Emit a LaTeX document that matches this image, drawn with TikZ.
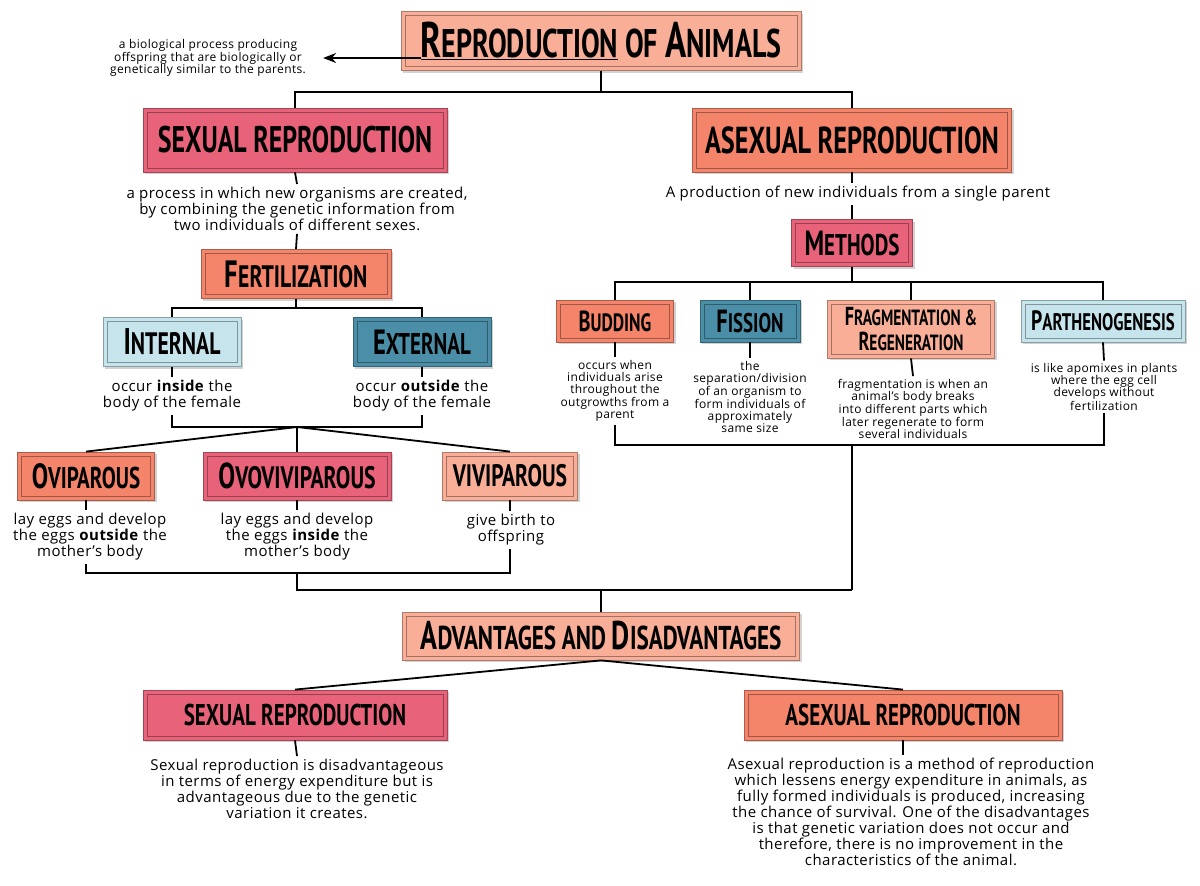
\documentclass[tikz,border=0pt]{standalone}
\usepackage{fontspec}
\setmainfont{Open Sans}[LetterSpace=3]
\newfontfamily\tf[FakeStretch=0.7]{PT Sans}
\usetikzlibrary{shadows,arrows.meta}
\definecolor{cPink}{HTML}{E8637A}
\definecolor{cCoral}{HTML}{F4846A}
\definecolor{cSalmon}{HTML}{F9AE97}
\definecolor{cBlue}{HTML}{C6E4EC}
\definecolor{cTeal}{HTML}{4A8EA8}
\newcommand\BigL[2]{{\fontsize{#2}{#2}\selectfont #1}}
\tikzset{
 box/.style={draw=#1!70!black, fill=#1, line width=0.8pt, inner sep=0pt, align=center,
   drop shadow={opacity=0.35, shadow xshift=2pt, shadow yshift=-2pt},
   path picture={\draw[#1!65!black, line width=0.6pt] ([shift={(4pt,4pt)}]path picture bounding box.south west) rectangle ([shift={(-4pt,-4pt)}]path picture bounding box.north east);}},
 hd/.style={font=\tf\bfseries\fontsize{#1}{#1}\selectfont},
 txt/.style={align=center, font=\fontsize{15}{16}\selectfont, inner sep=3pt},
 sm/.style={align=center, font=\fontsize{12}{12}\selectfont, inner sep=3pt},
 ln/.style={line width=1.8pt, black},
}
\begin{document}
\begin{tikzpicture}[x=1pt,y=-1pt]
\fill[white] (0,0) rectangle (1200,886);
\useasboundingbox (0,0) rectangle (1200,886);
% boxes
\node[box=cSalmon, hd=40, minimum width=400pt, minimum height=59pt] (title) at (601,41) {\underline{\BigL{R}{50}EPRODUCTION} OF \BigL{A}{50}NIMALS};
\node[box=cPink, hd=37, minimum width=304pt, minimum height=64pt] (sexT) at (295,140) {SEXUAL REPRODUCTION};
\node[box=cCoral, hd=37.5, minimum width=319pt, minimum height=64pt] (asexT) at (852,140) {ASEXUAL REPRODUCTION};
\node[box=cCoral, hd=31, minimum width=190pt, minimum height=49pt] (fert) at (296,274) {\BigL{F}{38}ERTILIZATION};
\node[box=cBlue, hd=31, minimum width=138pt, minimum height=49pt] (intl) at (172,342) {\BigL{I}{37}NTERNAL};
\node[box=cTeal, hd=30, minimum width=138pt, minimum height=49pt] (extl) at (422,342) {\BigL{E}{35}XTERNAL};
\node[box=cCoral, hd=30, minimum width=137pt, minimum height=48pt] (ovip) at (86,476) {\BigL{O}{35}VIPAROUS};
\node[box=cPink, hd=31, minimum width=188pt, minimum height=48pt] (ovov) at (297,476) {\BigL{O}{36}VOVIVIPAROUS};
\node[box=cSalmon, hd=31, minimum width=135pt, minimum height=48pt] (vivi) at (510,476) {VIVIPAROUS};
\node[box=cPink, hd=30, minimum width=121pt, minimum height=47pt] (meth) at (852,243) {\BigL{M}{35}ETHODS};
\node[box=cCoral, hd=25, minimum width=117pt, minimum height=42pt] (bud) at (615,321) {\BigL{B}{29}UDDING};
\node[box=cTeal, hd=27, minimum width=100pt, minimum height=42pt] (fis) at (750,321) {\BigL{F}{32}ISSION};
\node[box=cSalmon, hd=22, minimum width=167pt, minimum height=58pt] (frag) at (911,329) {\BigL{F}{26}RAGMENTATION \&\\[3pt]\BigL{R}{26}EGENERATION};
\node[box=cBlue, hd=24, minimum width=164pt, minimum height=42pt] (par) at (1103,321) {\BigL{P}{28}ARTHENOGENESIS};
\node[box=cSalmon, hd=33, minimum width=397pt, minimum height=48pt] (adv) at (601,636) {\BigL{A}{40}DVANTAGES AND \BigL{D}{40}ISADVANTAGES};
\node[box=cPink, hd=30, minimum width=304pt, minimum height=50pt] (sexB) at (295,715) {SEXUAL REPRODUCTION};
\node[box=cCoral, hd=30, minimum width=318pt, minimum height=50pt] (asexB) at (903,715) {ASEXUAL REPRODUCTION};
% texts
\node[sm] (def) at (208,58) {a biological process producing\\offspring that are biologically or\\genetically similar to the parents.};
\node[txt] (sexD) at (297,209) {a process in which new organisms are created,\\by combining the genetic information from\\two individuals of different sexes.};
\node[txt] (asD) at (858,194) {A production of new individuals from a single parent};
\node[txt] (intD) at (172,396) {occur \textbf{inside} the\\body of the female};
\node[txt] (extD) at (422,396) {occur \textbf{outside} the\\body of the female};
\node[txt] (ovipD) at (90,537) {lay eggs and develop\\the eggs \textbf{outside} the\\mother's body};
\node[txt] (ovovD) at (297,537) {lay eggs and develop\\the eggs \textbf{inside} the\\mother's body};
\node[txt] (viviD) at (511,530) {give birth to\\offspring};
\node[sm] (budD) at (615,391) {occurs when\\individuals arise\\throughout the\\outgrowths from a\\parent};
\node[sm] (fisD) at (750,397) {the\\separation/division\\of an organism to\\form individuals of\\approximately\\same size};
\node[sm] (fragD) at (913,409) {fragmentation is when an\\animal's body breaks\\into different parts which\\later regenerate to form\\several individuals};
\node[sm] (parD) at (1104,387) {is like apomixes in plants\\where the egg cell\\develops without\\fertilization};
\node[txt] (sexBD) at (297,789) {Sexual reproduction is disadvantageous\\in terms of energy expenditure but is\\advantageous due to the genetic\\variation it creates.};
\node[txt] (asexBD) at (911,812) {Asexual reproduction is a method of reproduction\\which lessens energy expenditure in animals, as\\fully formed individuals is produced, increasing\\the chance of survival. One of the disadvantages\\is that genetic variation does not occur and\\therefore, there is no improvement in the\\characteristics of the animal.};
% junctions
\coordinate (j1) at (601,92);
\coordinate (j2) at (296,308);
\coordinate (j3) at (297,427);
\coordinate (j4) at (297,573);
\coordinate (j6) at (852,590);
\coordinate (j7) at (852,445);
\coordinate (j8) at (852,282);
% connectors
\draw[ln,-{Stealth[length=13pt,width=10pt]}] ([xshift=20pt]title.west |- def.east) -- ([xshift=14pt]def.east);
\draw[ln] (title.south) -- (j1);
\draw[ln] (sexT.north) |- (j1) -| (asexT.north);
\draw[ln] (sexT.south) -- (sexD.north);
\draw[ln] (sexD.south) -- (fert.north);
\draw[ln] (fert.south) -- (j2);
\draw[ln] (intl.north) |- (j2) -| (extl.north);
\draw[ln] (intl.south) -- (intD.north);
\draw[ln] (extl.south) -- (extD.north);
\draw[ln] (intD.south) |- (j3) -| (extD.south);
\draw[ln] (j3) -- (ovip.north);
\draw[ln] (j3) -- (ovov.north);
\draw[ln] (j3) -- (vivi.north);
\draw[ln] (ovip.south) -- (ovip.south |- ovipD.north);
\draw[ln] (ovov.south) -- (ovovD.north);
\draw[ln] (vivi.south) -- (vivi.south |- viviD.north);
\draw[ln] (ovip.south |- ovipD.south) |- (j4) -| (vivi.south |- viviD.south);
\draw[ln] (j4) |- (j6);
\draw[ln] (adv.north) -- (adv.north |- j6);
\draw[ln] (j7) -- (j6);
\draw[ln] (adv.south) -- (sexB.north);
\draw[ln] (adv.south) -- (asexB.north);
\draw[ln] (sexB.south) -- (sexBD.north);
\draw[ln] (asexB.south) -- (asexB.south |- asexBD.north);
\draw[ln] (asexT.south) -- (asexT.south |- asD.north);
\draw[ln] (asexT.south |- asD.south) -- (meth.north);
\draw[ln] (meth.south) -- (j8);
\draw[ln] (bud.north) |- (j8) -| (par.north);
\draw[ln] (fis.north) -- (fis.north |- j8);
\draw[ln] (frag.north) -- (frag.north |- j8);
\draw[ln] (bud.south) -- (budD.north);
\draw[ln] (fis.south) -- (fisD.north);
\draw[ln] (frag.south) -- (fragD.north);
\draw[ln] (par.south) -- (parD.north);
\draw[ln] (budD.south) |- (j7) -| (parD.south);
\end{tikzpicture}
\end{document}
